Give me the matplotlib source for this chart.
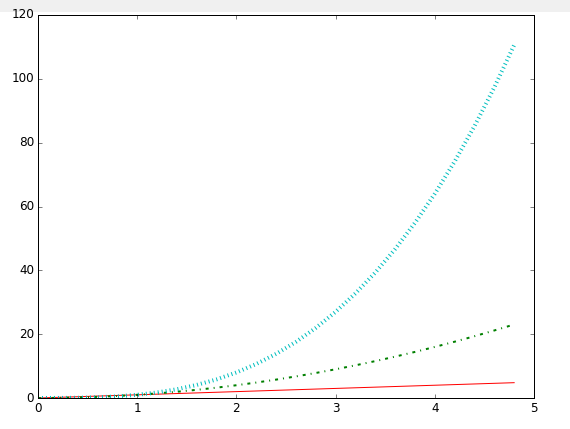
import matplotlib

matplotlib.use("Agg")
import matplotlib.pyplot as plt
from matplotlib.patches import Rectangle

plt.style.use("classic")

t = [0.0, 0.2, 0.4, 0.6, 0.8, 1.0, 1.2, 1.4, 1.6, 1.8, 2.0, 2.2, 2.4,
     2.6, 2.8, 3.0, 3.2, 3.4, 3.6, 3.8, 4.0, 4.2, 4.4, 4.6, 4.8]
linear = [0.0, 0.2, 0.4, 0.6, 0.8, 1.0, 1.2, 1.4, 1.6, 1.8, 2.0, 2.2, 2.4,
          2.6, 2.8, 3.0, 3.2, 3.4, 3.6, 3.8, 4.0, 4.2, 4.4, 4.6, 4.8]
square = [0.0, 0.04, 0.16, 0.36, 0.64, 1.0, 1.44, 1.96, 2.56, 3.24, 4.0,
          4.84, 5.76, 6.76, 7.84, 9.0, 10.24, 11.56, 12.96, 14.44, 16.0,
          17.64, 19.36, 21.16, 23.04]
cube = [0.0, 0.008, 0.064, 0.216, 0.512, 1.0, 1.728, 2.744, 4.096, 5.832,
        8.0, 10.648, 13.824, 17.576, 21.952, 27.0, 32.768, 39.304, 46.656,
        54.872, 64.0, 74.088, 85.184, 97.336, 110.592]

fig = plt.figure(figsize=(570 / 72, 429 / 72), dpi=72)
fig.patch.set_facecolor("white")
# light grey strip along the top edge
fig.patches.append(Rectangle((0, 1 - 12 / 429), 1, 12 / 429,
                             transform=fig.transFigure, facecolor="#f0f0f0",
                             edgecolor="none", zorder=-1))
ax = fig.add_axes([38 / 570, 1 - 398 / 429, 496 / 570, 383 / 429])

ax.plot(t, linear, "r-", lw=1)
ax.plot(t, square, "g-.", lw=2)
ax.plot(t, cube, "c:", lw=4)

ax.set_xlim(0, 5)
ax.set_ylim(0, 120)
ax.tick_params(labelsize=12)

fig.savefig("out.png", dpi=72, facecolor=fig.get_facecolor())
